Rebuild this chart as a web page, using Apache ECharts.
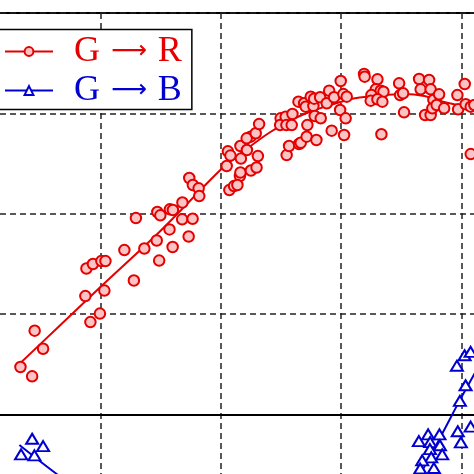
<!DOCTYPE html>
<html><head><meta charset="utf-8">
<script src="https://cdn.jsdelivr.net/npm/echarts@6/dist/echarts.min.js"></script>
<style>html,body{margin:0;padding:0;background:#fff;overflow:hidden;width:474px;height:474px;position:relative}#c{position:absolute;left:-20px;top:0;width:602px;height:615px}</style>
</head><body><div id="c"></div>
<script>
const seriesNames = ['G \u2192 R', 'G \u2192 B'];
// G -> R measured points
const redX = [0.336,0.433,0.524,0.454,0.884,0.938,1.008,1.042,0.875,1.033,0.996,0.917,1.278,1.199,1.295,1.365,1.468,1.488,1.473,1.498,1.577,1.602,1.574,1.600,1.681,1.679,1.733,1.766,1.738,1.768,1.816,1.821,2.059,2.080,2.049,2.071,2.110,2.159,2.163,2.167,2.163,2.217,2.250,2.297,2.308,2.138,2.248,2.215,2.290,2.318,2.497,2.493,2.539,2.545,2.595,2.589,2.645,2.692,2.705,2.719,2.547,2.567,2.650,2.664,2.713,2.794,2.747,2.769,2.775,2.825,2.780,2.830,2.880,2.900,2.941,2.921,2.996,3.024,2.991,3.037,3.018,3.046,3.190,3.195,3.301,3.287,3.328,3.351,3.251,3.245,3.301,3.342,3.334,3.481,3.489,3.514,3.522,3.647,3.660,3.730,3.743,3.697,3.743,3.766,3.757,3.793,3.813,3.855,3.965,3.971,4.026,4.034,4.076,4.076,4.106];
const redY = [0.472,0.379,0.654,0.834,1.454,1.499,1.528,1.528,1.179,1.234,1.005,0.920,1.334,1.638,1.957,1.653,1.733,1.533,2.017,1.984,2.044,2.037,1.844,1.668,2.112,1.944,1.773,1.950,2.356,2.286,2.253,2.176,2.622,2.580,2.476,2.236,2.276,2.376,2.411,2.550,2.675,2.635,2.431,2.461,2.575,2.286,2.768,2.752,2.802,2.894,2.951,2.884,2.967,2.884,2.994,2.884,3.117,3.101,3.067,2.884,2.585,2.675,2.695,2.708,2.768,2.735,3.167,3.074,3.147,3.161,2.974,2.951,3.101,3.226,3.161,2.828,3.323,2.785,3.034,2.951,3.193,3.167,3.393,3.366,3.340,3.240,3.226,3.216,3.183,3.127,3.141,3.117,2.792,3.300,3.183,3.200,3.011,3.343,3.240,3.333,3.240,2.984,2.984,3.134,3.051,3.084,3.190,3.051,3.183,3.041,3.293,3.091,3.067,2.595,3.084];
// G -> R fitted curve
const redFitX = [0.327,0.668,1.000,1.498,1.996,2.138,2.412,2.694,3.051,3.193,3.525,3.691,3.857,4.106,4.300];
const redFitY = [0.502,0.891,1.269,1.828,2.436,2.575,2.815,2.994,3.134,3.164,3.193,3.173,3.114,3.044,2.980];
// G -> B measured points
const blueX = [0.433,0.524,0.341,0.452,3.645,3.722,3.739,3.816,3.820,3.737,3.748,3.839,3.673,3.656,3.770,3.968,3.994,4.075,3.961,4.025,4.075,4.033,3.986,3.700,3.774];
const blueY = [-0.243,-0.316,-0.399,-0.409,-0.266,-0.199,-0.276,-0.199,-0.308,-0.346,-0.428,-0.399,-0.458,-0.540,-0.535,-0.168,-0.279,-0.122,0.485,0.589,0.623,0.290,0.135,-0.635,-0.655];
// G -> B fitted curve
const blueFitX = [0.327,0.626,1.000,1.830,2.661,3.243,3.492,3.658,3.824,3.990,4.106,4.239];
const blueFitY = [-0.306,-0.585,-0.904,-1.303,-1.403,-1.253,-0.954,-0.595,-0.227,0.152,0.402,0.691];

const RED = '#e40000', PINK = '#fbc4c4', BLUE = '#0000d0';
const zip = (a, b) => a.map((v, i) => [v, b[i]]);

const chart = echarts.init(document.getElementById('c'), null, {renderer: 'canvas'});
const richFor = (c) => ({
  t: {fontFamily: 'Liberation Serif', fontSize: 36, color: c, lineHeight: 36},
  a: {fontFamily: 'DejaVu Sans', fontSize: 25, color: c, lineHeight: 36, padding: [0, 2, 0, 2]}
});
chart.setOption({
  animation: false,
  backgroundColor: '#fff',
  grid: {left: 0, right: 0, top: 13.1, bottom: 0, show: true, borderColor: '#000', borderWidth: 2, backgroundColor: 'transparent'},
  xAxis: {type: 'value', min: 0, max: 5, interval: 1,
    axisLine: {onZero: true, lineStyle: {color: '#000', width: 2}},
    axisTick: {show: false}, axisLabel: {show: false},
    splitLine: {show: true, lineStyle: {color: '#222', width: 1.5, type: [6, 4]}}},
  yAxis: {type: 'value', min: -2, max: 4, interval: 1,
    axisLine: {show: false}, axisTick: {show: false}, axisLabel: {show: false},
    splitLine: {show: true, lineStyle: {color: '#222', width: 1.5, type: [6, 4]}}},
  legend: {
    data: [
      {name: seriesNames[0], textStyle: {color: RED, rich: richFor(RED)}},
      {name: seriesNames[1], textStyle: {color: BLUE, rich: richFor(BLUE)}}
    ],
    orient: 'vertical', left: 19, top: 29.5,
    backgroundColor: '#fff', borderColor: '#000', borderWidth: 1.5, borderRadius: 0,
    padding: [4, 10, 1, 5], itemGap: 3, itemWidth: 48, itemHeight: 11,
    textStyle: {fontFamily: 'Liberation Serif', fontSize: 36, lineHeight: 36, padding: [0, 0, 0, 16]},
    formatter: function (n) {
      const p = n.split(' \u2192 ');
      return '{t|' + p[0] + ' }{a|\u27F6}{t| ' + p[1] + '}';
    },
    selectedMode: false
  },
  series: [
    {name: seriesNames[0], type: 'line', data: zip(redFitX, redFitY), smooth: 0.3, showSymbol: false,
      symbol: 'circle', symbolSize: 9, lineStyle: {color: RED, width: 2},
      itemStyle: {color: PINK, borderColor: RED, borderWidth: 2}, z: 2, silent: true},
    {name: seriesNames[0], type: 'scatter', data: zip(redX, redY), symbol: 'circle', symbolSize: 10.5,
      itemStyle: {color: PINK, borderColor: RED, borderWidth: 2, opacity: 1}, z: 3},
    {name: seriesNames[1], type: 'line', data: zip(blueFitX, blueFitY), smooth: 0.3, showSymbol: false,
      symbol: 'triangle', symbolSize: 9, lineStyle: {color: BLUE, width: 2},
      itemStyle: {color: '#fff', borderColor: BLUE, borderWidth: 2}, z: 2, silent: true},
    {name: seriesNames[1], type: 'scatter', data: zip(blueX, blueY), symbol: 'triangle', symbolSize: [12, 10],
      itemStyle: {color: '#fff', borderColor: BLUE, borderWidth: 2, opacity: 1}, z: 3}
  ]
});
</script></body></html>
